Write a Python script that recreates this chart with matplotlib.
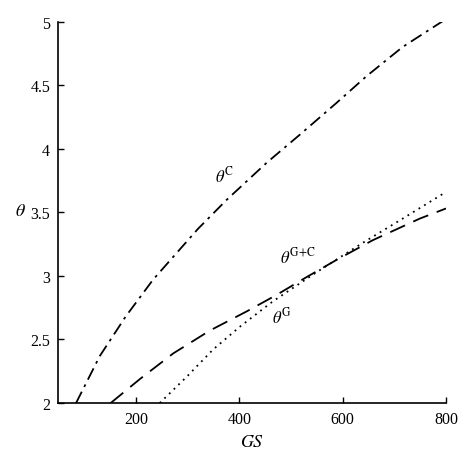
import numpy as np
import matplotlib
matplotlib.use('Agg')
import matplotlib.pyplot as plt

# theta^C (dash-dot)
gs_c = [84, 130, 180, 233, 320, 376, 453, 517, 588, 646, 716, 800]
theta_c = [2.0, 2.37, 2.68, 2.97, 3.37, 3.60, 3.89, 4.11, 4.36, 4.57, 4.80, 5.02]

# theta^{G+C} (dashed)
gs_gc = [151, 208, 272, 343, 414, 472, 530, 590, 658, 749, 800]
theta_gc = [2.0, 2.19, 2.39, 2.57, 2.72, 2.85, 2.99, 3.13, 3.28, 3.45, 3.53]

# theta^G (dotted)
gs_g = [246, 299, 349, 401, 465, 550, 639, 716, 800]
theta_g = [2.0, 2.21, 2.42, 2.60, 2.80, 3.03, 3.26, 3.45, 3.66]

xticks = [200, 400, 600, 800]
yticks = [2, 2.5, 3, 3.5, 4, 4.5, 5]

plt.rcParams['font.family'] = ['Liberation Serif', 'DejaVu Serif']
plt.rcParams['mathtext.fontset'] = 'stix'

fig = plt.figure(figsize=(4.74, 4.60), dpi=100)
ax = fig.add_axes([0.1234, 0.1217, 0.8176, 0.8293])

lw = 1.3
ax.plot(gs_c, theta_c, color='black', lw=lw, dashes=(7, 3, 1.5, 3))
ax.plot(gs_gc, theta_gc, color='black', lw=lw, dashes=(9, 5))
ax.plot(gs_g, theta_g, color='black', lw=lw, dashes=(1, 2.6))

ax.set_xlim(50, 800)
ax.set_ylim(2, 5)
ax.set_xticks(xticks)
ax.set_yticks(yticks)
ax.set_yticklabels([f'{v:g}' for v in yticks])
ax.tick_params(direction='in', length=4, width=1, labelsize=11.5, pad=6)

for side in ['top', 'right']:
    ax.spines[side].set_visible(False)
for side in ['left', 'bottom']:
    ax.spines[side].set_linewidth(1.2)

ax.set_xlabel('$\\mathit{GS}$', fontsize=13, labelpad=4)
fig.text(20 / 474, 1 - 212 / 460, '$\\theta$', fontsize=13, ha='center', va='center')

# curve labels, placed in figure pixels (origin bottom left)
H = 460
ax.annotate('$\\theta^{\\mathrm{C}}$', xy=(225, H - 176), xycoords='figure pixels',
            fontsize=12, ha='center', va='center')
ax.annotate('$\\theta^{\\mathrm{G{+}C}}$', xy=(298, H - 257), xycoords='figure pixels',
            fontsize=12, ha='center', va='center')
ax.annotate('$\\theta^{\\mathrm{G}}$', xy=(282, H - 317), xycoords='figure pixels',
            fontsize=12, ha='center', va='center')

fig.savefig('out.png', dpi=100)
